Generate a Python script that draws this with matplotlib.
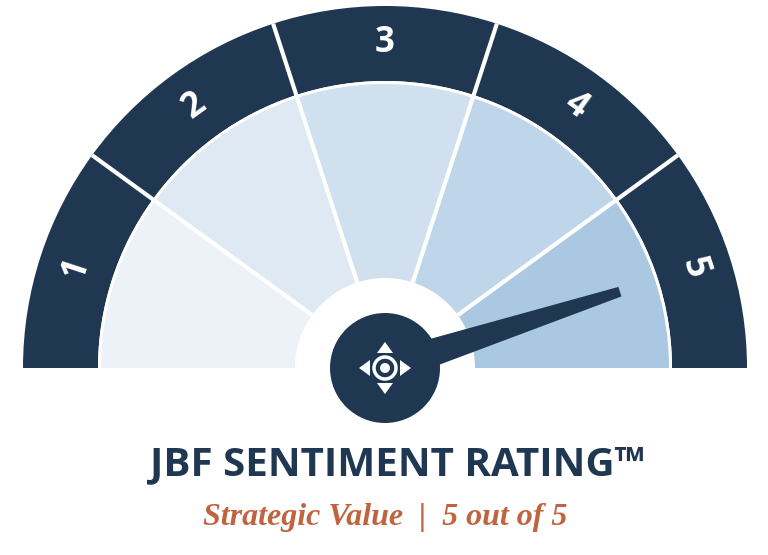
import numpy as np
import matplotlib
matplotlib.use("Agg")
import matplotlib.pyplot as plt
from matplotlib.patches import Wedge, Circle, Polygon

ratings = [1, 2, 3, 4, 5]
rating_value = 5
wedge_colors = ["#edf2f9", "#dfe9f4", "#d0e0ef", "#bfd5ea", "#abc8e2"]
title = "JBF SENTIMENT RATING™"
subtitle = "Strategic Value  |  5 out of 5"

NAVY = "#203752"
W, H = 768, 555
fig = plt.figure(figsize=(W/100, H/100), dpi=100)
ax = fig.add_axes([0, 0, 1, 1])
ax.set_xlim(0, W); ax.set_ylim(0, H); ax.set_aspect("equal"); ax.axis("off")

cx, cy = 385, H - 368
R_out, R_band, R_in, R_hole, R_hub = 362, 287, 285, 90, 55
n = len(ratings)
step = 180 / n
for i, r in enumerate(ratings):
    a1 = 180 - (i + 1) * step
    a2 = 180 - i * step
    ax.add_patch(Wedge((cx, cy), R_out, a1, a2, width=R_out - R_band, facecolor=NAVY, edgecolor="none"))
    ax.add_patch(Wedge((cx, cy), R_in, a1, a2, width=R_in - R_hole, facecolor=wedge_colors[i], edgecolor="none"))
    mid = np.radians((a1 + a2) / 2)
    rl = (R_out + R_band) / 2
    ax.text(cx + rl*np.cos(mid), cy + rl*np.sin(mid), str(r), color="white", fontsize=25,
            fontweight="bold", family="Open Sans", ha="center", va="center",
            rotation=np.degrees(mid) - 90)
for i in range(1, n):
    a = np.radians(180 - i * step)
    ax.plot([cx + R_hole*np.cos(a), cx + R_out*np.cos(a)], [cy + R_hole*np.sin(a), cy + R_out*np.sin(a)],
            color="white", lw=3, solid_capstyle="butt")
ax.add_patch(Wedge((cx, cy), R_band, 0, 180, width=R_band - R_in + 1, facecolor="white", edgecolor="none"))

ang = np.radians(180 - (rating_value - 0.5) * step)
L = 247
perp = ang + np.pi/2
tip = (cx + L*np.cos(ang), cy + L*np.sin(ang))
ax.add_patch(Polygon([(cx + 16*np.cos(perp), cy + 16*np.sin(perp)),
                      (tip[0] + 5*np.cos(perp), tip[1] + 5*np.sin(perp)),
                      (tip[0] - 5*np.cos(perp), tip[1] - 5*np.sin(perp)),
                      (cx - 16*np.cos(perp), cy - 16*np.sin(perp))], facecolor=NAVY, edgecolor="none"))
ax.add_patch(Circle((cx, cy), R_hub, facecolor=NAVY, edgecolor="none"))
ax.add_patch(Circle((cx, cy), 11, facecolor="none", edgecolor="white", lw=2.5))
ax.add_patch(Circle((cx, cy), 5, facecolor="white", edgecolor="none"))
for k in range(4):
    t = np.radians(90 * k)
    base = 15; tipd = 26
    p = t + np.pi/2
    pts = [(cx + tipd*np.cos(t), cy + tipd*np.sin(t)),
           (cx + base*np.cos(t) + 8*np.cos(p), cy + base*np.sin(t) + 8*np.sin(p)),
           (cx + base*np.cos(t) - 8*np.cos(p), cy + base*np.sin(t) - 8*np.sin(p))]
    ax.add_patch(Polygon(pts, facecolor="white", edgecolor="none"))

ax.text(cx + 12, H - 465, title, color=NAVY, fontsize=29, fontweight="bold", family="Open Sans",
        ha="center", va="center")
ax.text(cx, H - 518, subtitle, color="#c0633f", fontsize=23, fontweight="bold", style="italic",
        family="Liberation Serif", ha="center", va="center")

fig.savefig("out.png", dpi=100, facecolor="white")
